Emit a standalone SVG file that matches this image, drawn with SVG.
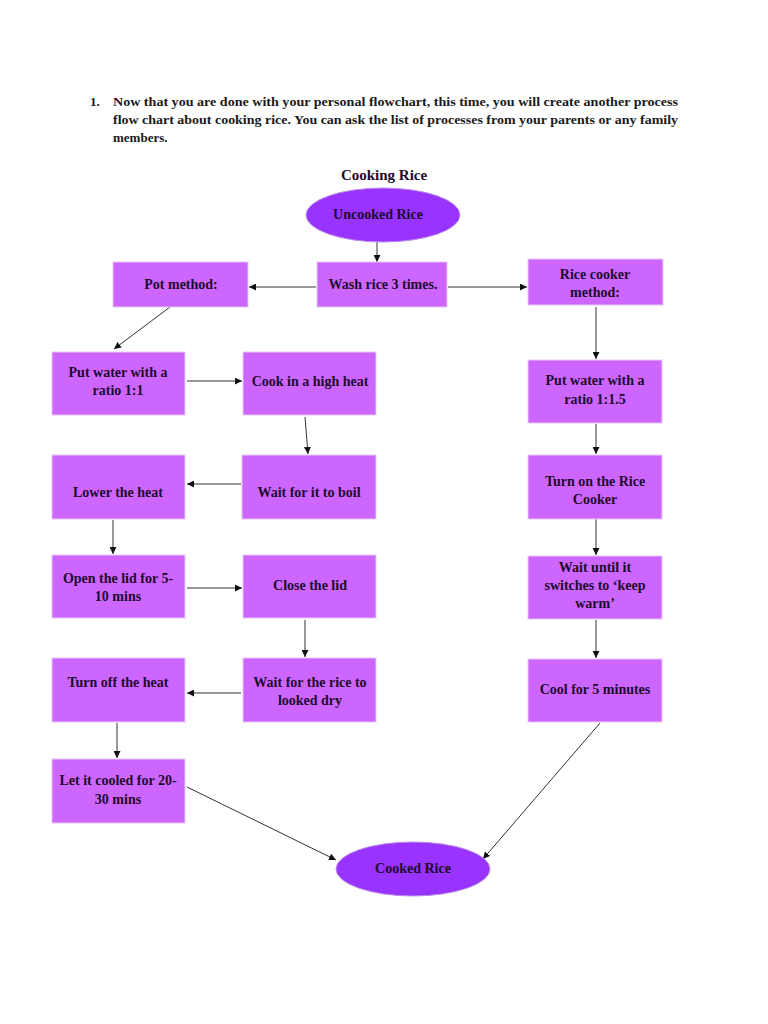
<svg xmlns="http://www.w3.org/2000/svg" width="768" height="1024" viewBox="0 0 768 1024">
<style>
.t{font-family:"Liberation Serif","DejaVu Serif",serif;font-weight:bold;font-size:14px;fill:#1e0a2c;text-anchor:middle}
.p{font-family:"Liberation Serif","DejaVu Serif",serif;font-weight:bold;font-size:13px;fill:#1a1a1a}
.box{fill:#cc66ff;stroke:#e9c6f5;stroke-width:1}
.ell{fill:#9933ff;stroke:#b88ce6;stroke-width:1}
.c line{stroke:#333;stroke-width:1;marker-end:url(#ah)}
</style>
<defs>
<marker id="ah" viewBox="0 0 10 10" refX="10" refY="5" markerWidth="7" markerHeight="7" orient="auto" markerUnits="userSpaceOnUse">
<path d="M0,0 L10,5 L0,10 z" fill="#111"/>
</marker>
</defs>
<rect width="768" height="1024" fill="#fff"/>
<g id="intro">
<text class="p" x="90" y="106">1.</text>
<text class="p" x="113" y="106" textLength="565" lengthAdjust="spacingAndGlyphs">Now that you are done with your personal flowchart, this time, you will create another process</text>
<text class="p" x="113" y="124" textLength="565" lengthAdjust="spacingAndGlyphs">flow chart about cooking rice. You can ask the list of processes from your parents or any family</text>
<text class="p" x="113" y="142">members.</text>
</g>
<g id="title"><text class="t" x="384" y="180" style="font-size:15px">Cooking Rice</text></g>
<g class="c" id="connectors">
<line x1="377" y1="242" x2="377" y2="262"/>
<line x1="316" y1="287" x2="249" y2="287"/>
<line x1="448" y1="287" x2="527" y2="287"/>
<line x1="170" y1="307" x2="114" y2="349"/>
<line x1="187" y1="381" x2="242" y2="381"/>
<line x1="305" y1="417" x2="308" y2="454"/>
<line x1="241" y1="484" x2="187" y2="484"/>
<line x1="113" y1="520" x2="113" y2="554"/>
<line x1="187" y1="588" x2="242" y2="588"/>
<line x1="305" y1="620" x2="305" y2="657"/>
<line x1="241" y1="693" x2="187" y2="693"/>
<line x1="117" y1="723" x2="117" y2="758"/>
<line x1="187" y1="787" x2="336" y2="860"/>
<line x1="600" y1="723" x2="483" y2="859"/>
<line x1="596" y1="307" x2="596" y2="359"/>
<line x1="596" y1="424" x2="596" y2="454"/>
<line x1="596" y1="519" x2="596" y2="555"/>
<line x1="596" y1="620" x2="596" y2="658"/>
</g>
<g id="n-uncooked"><ellipse class="ell" cx="383" cy="215" rx="77" ry="27"/><text class="t" x="378" y="219">Uncooked Rice</text></g>
<g id="n-wash"><rect class="box" x="317" y="262" width="130" height="45"/><text class="t" x="383" y="289">Wash rice 3 times.</text></g>
<g id="n-pot"><rect class="box" x="113" y="262" width="135" height="45"/><text class="t" x="181" y="289">Pot method:</text></g>
<g id="n-cooker"><rect class="box" x="528" y="259" width="135" height="46"/><text class="t" x="595" y="279">Rice cooker</text><text class="t" x="595" y="297">method:</text></g>
<g id="n-water1"><rect class="box" x="52" y="352" width="133" height="63"/><text class="t" x="118" y="377">Put water with a</text><text class="t" x="118" y="395">ratio  1:1</text></g>
<g id="n-cook"><rect class="box" x="243" y="352" width="133" height="63"/><text class="t" x="310" y="386">Cook in a high heat</text></g>
<g id="n-boil"><rect class="box" x="242" y="455" width="134" height="64"/><text class="t" x="309" y="497">Wait for it to boil</text></g>
<g id="n-lower"><rect class="box" x="52" y="455" width="133" height="64"/><text class="t" x="118" y="497">Lower the heat</text></g>
<g id="n-open"><rect class="box" x="52" y="555" width="133" height="63"/><text class="t" x="118" y="583">Open the lid for 5-</text><text class="t" x="118" y="601">10 mins</text></g>
<g id="n-close"><rect class="box" x="243" y="555" width="133" height="63"/><text class="t" x="310" y="590">Close the lid</text></g>
<g id="n-dry"><rect class="box" x="243" y="658" width="133" height="64"/><text class="t" x="310" y="687">Wait for the rice to</text><text class="t" x="310" y="705">looked dry</text></g>
<g id="n-off"><rect class="box" x="52" y="658" width="133" height="64"/><text class="t" x="118" y="687">Turn off the heat</text></g>
<g id="n-cool1"><rect class="box" x="52" y="759" width="133" height="64"/><text class="t" x="118" y="785">Let it cooled for 20-</text><text class="t" x="118" y="804">30 mins</text></g>
<g id="n-water2"><rect class="box" x="528" y="360" width="134" height="63"/><text class="t" x="595" y="385">Put water with a</text><text class="t" x="595" y="404">ratio  1:1.5</text></g>
<g id="n-turnon"><rect class="box" x="528" y="455" width="134" height="64"/><text class="t" x="595" y="486">Turn on the Rice</text><text class="t" x="595" y="504">Cooker</text></g>
<g id="n-waituntil"><rect class="box" x="528" y="556" width="134" height="63"/><text class="t" x="595" y="572">Wait until it</text><text class="t" x="595" y="590">switches to ‘keep</text><text class="t" x="595" y="608">warm’</text></g>
<g id="n-cool5"><rect class="box" x="528" y="659" width="134" height="63"/><text class="t" x="595" y="694">Cool for 5 minutes</text></g>
<g id="n-cooked"><ellipse class="ell" cx="413" cy="869" rx="77" ry="27"/><text class="t" x="413" y="873">Cooked Rice</text></g>
</svg>
